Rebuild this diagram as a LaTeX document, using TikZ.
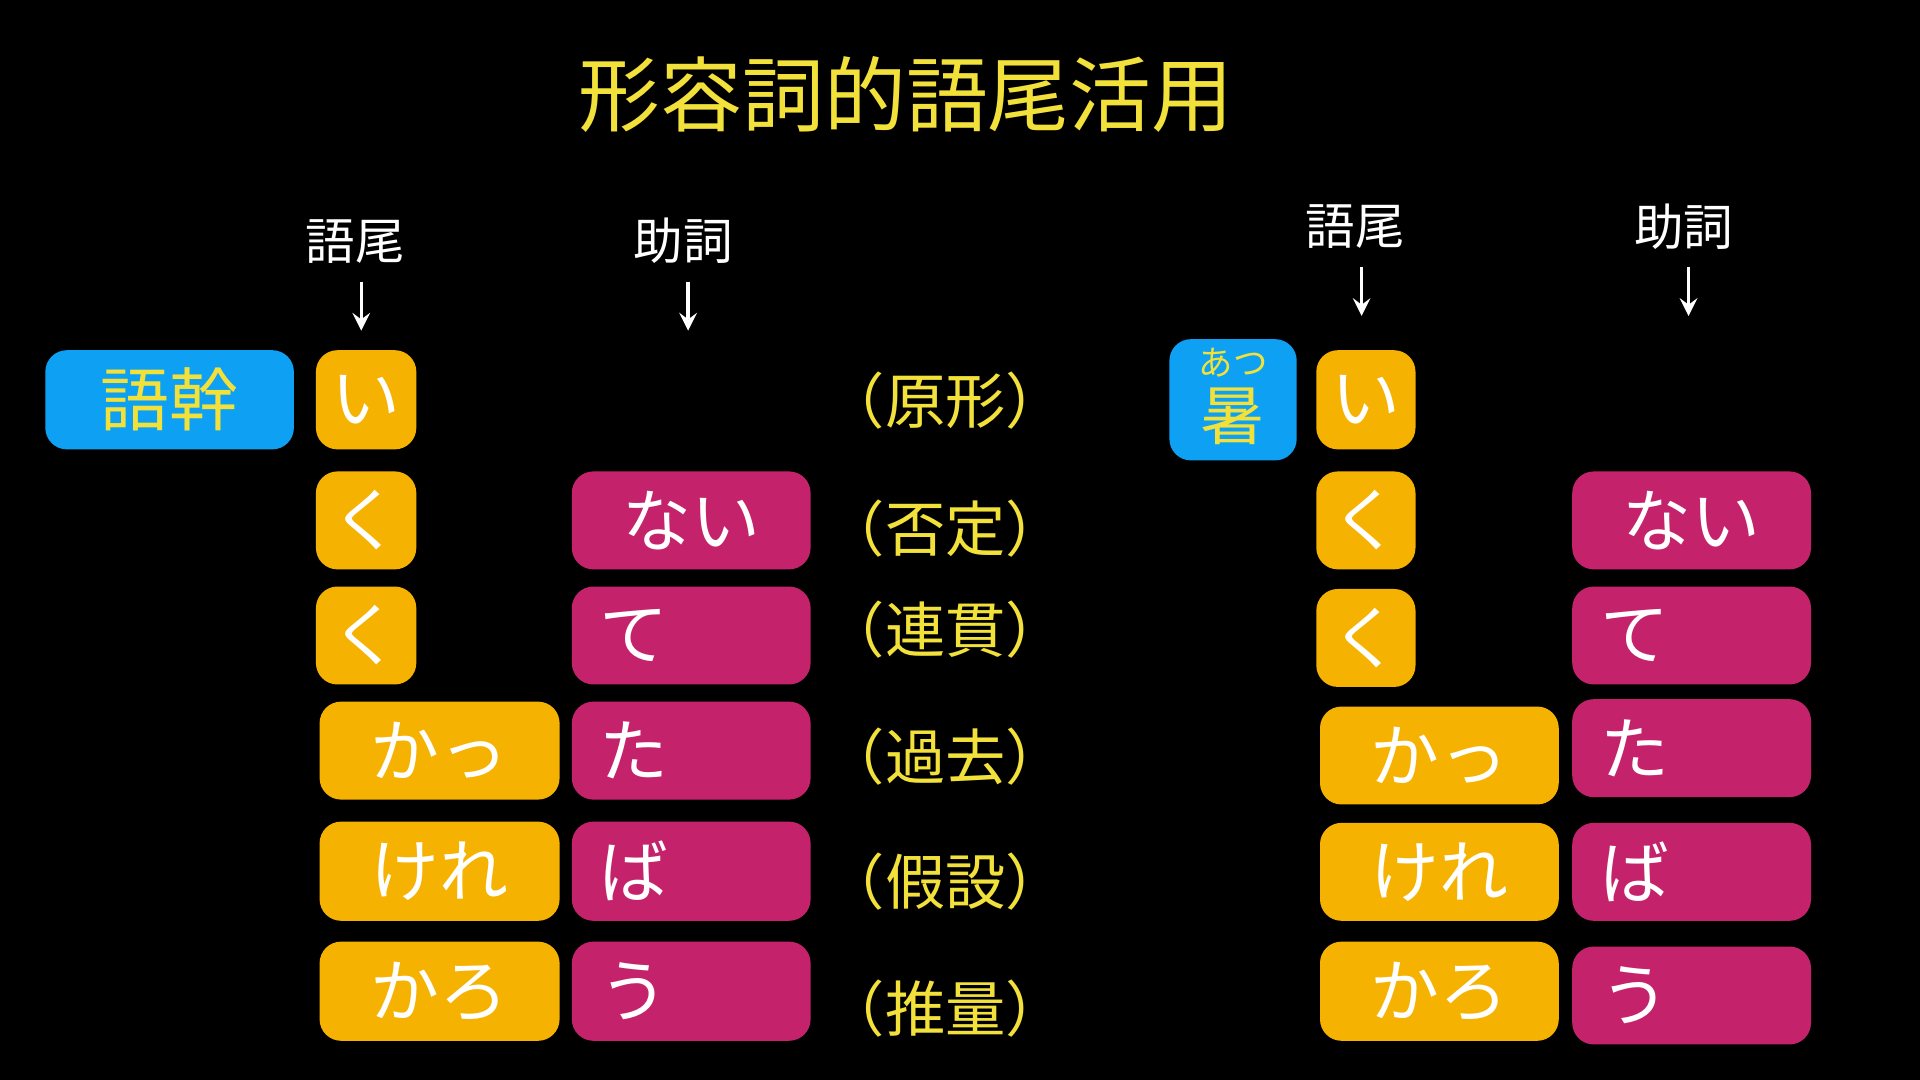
\documentclass[tikz,border=0pt]{standalone}
\usepackage{fontspec}
\setmainfont{Noto Sans CJK JP}
\definecolor{bgk}{HTML}{000000}
\definecolor{cblue}{HTML}{0EA0F2}
\definecolor{corange}{HTML}{F6B200}
\definecolor{cmag}{HTML}{C4236B}
\definecolor{cyel}{HTML}{F2E13A}
\newcommand\bx[7]{\node[boxx,fill=#6,minimum width={(#4-#2)*0.01cm},minimum height={(#5-#3)*0.01cm}] (#1) at ({(#2+#4)/2},{(#3+#5)/2}) {#7};}
\newcommand\bxl[7]{\node[boxx,fill=#6,minimum width={(#4-#2)*0.01cm},minimum height={(#5-#3)*0.01cm}] (#1) at ({(#2+#4)/2},{(#3+#5)/2}) {};
\node[boxtxt,anchor=west] (#1t) at ({#2+22},{(#3+#5)/2}) {#7};}
\begin{document}
\begin{tikzpicture}[x=0.01cm,y=-0.01cm,
  boxx/.style={rounded corners=5pt,draw=none,inner sep=0pt,text=white,font=\fontsize{16}{16}\selectfont},
  boxtxt/.style={text=white,inner sep=0pt,font=\fontsize{16}{16}\selectfont},
  head/.style={text=white,font=\fontsize{11.5}{12}\selectfont},
  lab/.style={text=cyel,font=\fontsize{14}{14}\selectfont},
  arr/.style={->,white,line width=0.8pt,>=stealth}]
\fill[black] (0,0) rectangle (1568,882);
\node[text=cyel,font=\fontsize{19}{20}\selectfont] (title) at (740,77) {形容詞的語尾活用};
% left headers
\node[head] (h1) at (290,197) {語尾};
\node[head] (h2) at (558,197) {助詞};
\coordinate (a1s) at (295,230); \coordinate (a1e) at (295,270);
\coordinate (a2s) at (562,230); \coordinate (a2e) at (562,270);
\draw[arr] (a1s) -- (a1e); \draw[arr] (a2s) -- (a2e);
\bx{gokan}{37}{286}{240}{367}{cblue}{\textcolor{cyel}{語幹}}
\bx{l1}{258}{286}{340}{367}{corange}{い}
\bx{l2}{258}{385}{340}{465}{corange}{く}
\bx{l3}{258}{479}{340}{559}{corange}{く}
\bx{l4}{261}{573}{457}{653}{corange}{かっ}
\bx{l5}{261}{671}{457}{752}{corange}{けれ}
\bx{l6}{261}{769}{457}{850}{corange}{かろ}
\bx{m2}{467}{385}{662}{465}{cmag}{ない}
\bxl{m3}{467}{479}{662}{559}{cmag}{て}
\bxl{m4}{467}{573}{662}{653}{cmag}{た}
\bxl{m5}{467}{671}{662}{752}{cmag}{ば}
\bxl{m6}{467}{769}{662}{850}{cmag}{う}
\node[lab] (t1) at (772,327) {（原形）};
\node[lab] (t2) at (772,432) {（否定）};
\node[lab] (t3) at (772,514) {（連貫）};
\node[lab] (t4) at (772,618) {（過去）};
\node[lab] (t5) at (772,720) {（假設）};
\node[lab] (t6) at (772,824) {（推量）};
% right
\node[head] (h3) at (1107,185) {語尾};
\node[head] (h4) at (1375,185) {助詞};
\coordinate (a3s) at (1112,218); \coordinate (a3e) at (1112,258);
\coordinate (a4s) at (1379,218); \coordinate (a4e) at (1379,258);
\draw[arr] (a3s) -- (a3e); \draw[arr] (a4s) -- (a4e);
\bx{atsu}{955}{277}{1059}{376}{cblue}{}
\node[text=cyel,font=\fontsize{8}{8}\selectfont] (ruby) at (1007,296) {あつ};
\node[text=cyel,font=\fontsize{15}{15}\selectfont] (kan) at (1007,340) {暑};
\bx{r1}{1075}{286}{1156}{367}{corange}{い}
\bx{r2}{1075}{385}{1156}{465}{corange}{く}
\bx{r3}{1075}{481}{1156}{561}{corange}{く}
\bx{r4}{1078}{577}{1273}{657}{corange}{かっ}
\bx{r5}{1078}{672}{1273}{752}{corange}{けれ}
\bx{r6}{1078}{769}{1273}{850}{corange}{かろ}
\bx{n2}{1284}{385}{1479}{465}{cmag}{ない}
\bxl{n3}{1284}{479}{1479}{559}{cmag}{て}
\bxl{n4}{1284}{571}{1479}{651}{cmag}{た}
\bxl{n5}{1284}{672}{1479}{752}{cmag}{ば}
\bxl{n6}{1284}{773}{1479}{853}{cmag}{う}
\end{tikzpicture}
\end{document}
